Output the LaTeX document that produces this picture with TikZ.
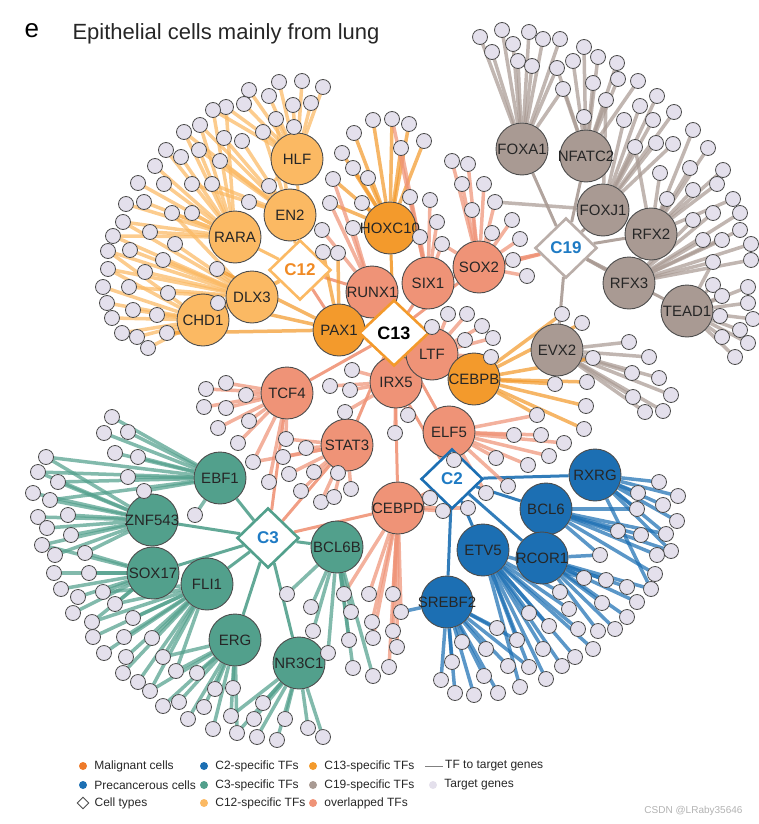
\documentclass[tikz,border=0pt]{standalone}
\usepackage{mathtools}
\usepackage{fontspec}
\setmainfont{Liberation Sans}
\usepackage{tikz}
\usetikzlibrary{positioning,backgrounds,shapes.geometric}

\definecolor{cTwelve}{HTML}{FBB963}
\definecolor{cThirteen}{HTML}{F39A2C}
\definecolor{cOver}{HTML}{EF9377}
\definecolor{cNineteen}{HTML}{A99A93}
\definecolor{cTwo}{HTML}{1C6FB3}
\definecolor{cThree}{HTML}{52A08C}
\definecolor{cTarget}{HTML}{E4E0EC}
\definecolor{cLabel}{HTML}{1F7BC4}
\definecolor{cTwelveTxt}{HTML}{F08A24}
\definecolor{cMalig}{HTML}{EE7A2A}

% targets of every TF: name/colour/{x/y,...}
\def\targetlist{
  HLF/cTwelve/{279/82,302/81,323/87,249/90,269/96,293/105,311/103,276/119,294/127,263/132,244/104,226/107,213/110},
  EN2/cTwelve/{242/141,224/138,220/161,199/150,200/125,184/132,269/186,249/202,212/184,192/184},
  RARA/cTwelve/{166/150,181/157,155/166,138/183,164/184,126/204,144/202,172/213,192/213,123/222,150/232,113/236},
  DLX3/cTwelve/{175/244,108/251,130/250,163/260,108/269,145/272,217/269,129/287,168/293,218/303},
  CHD1/cTwelve/{103/287,107/303,133/310,157/315,112/318,122/333,137/337,167/333,148/348},
  HOXC10/cThirteen/{373/120,354/133,342/153,333/179,330/203,353/168,368/178,362/203,392/119,409/124,424/141,401/148},
  RUNX1/cOver/{322/230,353/228},
  PAX1/cThirteen/{323/252,338/253},
  SIX1/cOver/{410/197,430/200,437/222,420/237,442/244},
  SOX2/cOver/{452/161,468/164,462/184,484/184,472/210,495/202,512/220,492/233,520/239,513/260,527/276},
  LTF/cOver/{448/314,467/314,432/327,482/326,465/340,493/338,491/357},
  IRX5/cOver/{330/386,350/390,352/370,345/412,408/415,395/433},
  TCF4/cOver/{206/389,226/383,246/395,204/407,226/408,249/421,218/428,238/443,253/462,269/482},
  STAT3/cOver/{286/439,306/448,283/457,289/474,314/472,338/473,301/491,321/502,334/497,351/489},
  ELF5/cOver/{514/435,541/435,564/443,496/458,528/465,549/456,508/486,486/493,454/460},
  CEBPB/cThirteen/{562/314,582/323,555/384,587/382,586/406,537/415,584/429},
  CEBPD/cOver/{344/594,369/594,372/622,373/638,393/594,401/612,393/631,397/647,389/667,430/498,443/511,468/508},
  BCL6B/cThree/{287/594,311/607,313/631,328/653,351/612,349/640,353/668,373/676},
  FOXA1/cNineteen/{480/37,492/52,502/30,513/44,518/61,529/32,532/66,543/39,560/39,557/68},
  NFATC2/cNineteen/{573/61,584/47,598/57,617/63,563/89,593/83,618/79,638/81,606/100,584/117},
  FOXJ1/cNineteen/{640/106,657/96,674/112,624/120,653/120,635/147,656/143,673/144},
  RFX2/cNineteen/{693/130,708/148,660/173,690/168,723/170,717/184,693/190,667/199,733/199},
  RFX3/cNineteen/{740/213,713/213,693/220,740/230,722/240,703/240,751/244,751/260,713/262},
  TEAD1/cNineteen/{713/285,748/287,722/296,748/303,720/316,740/330,753/319,722/337,748/343,735/357},
  EVX2/cNineteen/{629/342,593/358,649/357,632/373,659/378,633/397,671/395,645/412,663/411},
  RXRG/cTwo/{659/482,638/493,678/496,663/505,637/509,677/521},
  BCL6/cTwo/{618/531,641/535,666/534,671/551,657/555,600/555,655/574},
  RCOR1/cTwo/{651/589,637/602,627/587,627/617,615/629,598/631,606/580,602/603,584/578},
  ETV5/cTwo/{560/592,569/609,578/629,593/649,575/657,562/666,549/626,529/613,543/649,529/667,546/679,520/687},
  SREBF2/cTwo/{517/640,508/666,497/628,486/649,484/676,498/693,474/695,455/693,441/680,452/662,462/642},
  EBF1/cThree/{112/417,104/433,128/432,115/453,138/457,128/477,144/491,195/515},
  ZNF543/cThree/{46/457,38/472,58/482,33/493,50/500,68/515,38/517,47/528,71/535,42/545,55/555,85/553},
  SOX17/cThree/{54/573,89/573,61/589,78/597,103/592,115/604,73/613,92/622},
  FLI1/cThree/{133/618,93/637,124/637,152/638,104/653,126/657,163/657,123/673,176/671,138/682,150/691},
  ERG/cThree/{197/673,215/689,233/688,163/706,179/702,204/707,188/719,231/716,213/729,237/733},
  NR3C1/cThree/{263/703,254/719,285/719,257/737,277/740,308/728,323/737}}

\begin{document}
\begin{tikzpicture}[
    x=1pt, y=-1pt,
    node distance=7pt,
    font=\fontsize{15}{15}\selectfont,
    tf/.style={
        circle,
        draw=black!70,
        line width=0.9pt,
        minimum size=52pt,
        inner sep=0pt,
        text=black!85
    },
    tg/.style={
        circle,
        draw=black!70,
        line width=0.8pt,
        fill=cTarget,
        minimum size=15pt,
        inner sep=0pt
    },
    ctype/.style={
        diamond,
        draw=#1,
        line width=2.6pt,
        fill=white,
        minimum width=62pt,
        minimum height=60pt,
        inner sep=0pt,
        font=\bfseries\fontsize{17}{17}\selectfont
    },
    link/.style={draw=#1, line width=3.5pt, opacity=0.72},
    hub/.style={draw=#1, line width=3pt, opacity=0.9},
    lgdot/.style={circle, fill=#1, minimum size=8pt, inner sep=0pt},
    lgtext/.style={font=\fontsize{12}{12}\selectfont, inner sep=0pt, anchor=west, text=black!85}
  ]
  \useasboundingbox (0,0) rectangle (758,824);

  % title
  \node[anchor=base west, font=\fontsize{26}{26}\selectfont] (panel) at (21,38) {e};
  \node[anchor=base west, font=\fontsize{22}{22}\selectfont, text=black!85] (title) at (69,40) {Epithelial cells mainly from lung};

  % We start by placing the TFs
  \foreach \nm/\x/\y/\col in {
      HLF/297/159/cTwelve, EN2/290/215/cTwelve, RARA/235/237/cTwelve,
      DLX3/252/297/cTwelve, CHD1/203/320/cTwelve,
      RUNX1/372/292/cOver, SIX1/428/283/cOver, SOX2/479/267/cOver,
      IRX5/396/382/cOver, LTF/432/354/cOver, TCF4/287/393/cOver,
      STAT3/347/445/cOver, ELF5/449/432/cOver, CEBPD/398/508/cOver,
      HOXC10/390/228/cThirteen, PAX1/339/330/cThirteen, CEBPB/474/379/cThirteen,
      FOXA1/522/149/cNineteen, NFATC2/586/156/cNineteen, FOXJ1/603/210/cNineteen,
      RFX2/651/234/cNineteen, RFX3/629/283/cNineteen, TEAD1/687/311/cNineteen,
      EVX2/557/350/cNineteen,
      RXRG/595/475/cTwo, BCL6/546/509/cTwo, RCOR1/542/558/cTwo,
      ETV5/483/550/cTwo, SREBF2/447/602/cTwo,
      EBF1/220/478/cThree, ZNF543/152/520/cThree, SOX17/153/573/cThree,
      FLI1/207/584/cThree, ERG/235/640/cThree, NR3C1/299/663/cThree,
      BCL6B/337/547/cThree}
    \node[tf, fill=\col] (\nm) at (\x,\y) {\clap{\nm}};

  % cell types
  \node[ctype=cTwelve, text=cTwelveTxt] (C12) at (300,270) {C12};
  \node[ctype=cThirteen, minimum width=70pt, minimum height=66pt, font=\bfseries\fontsize{18}{18}\selectfont] (C13) at (394,333) {C13};
  \node[ctype=cNineteen!80, text=cLabel] (C19) at (566,248) {C19};
  \node[ctype=cTwo, text=cLabel] (C2) at (452,479) {C2};
  \node[ctype=cThree, text=cLabel] (C3) at (268,538) {C3};

  \begin{scope}[on background layer]
    \foreach \ct/\nm/\col in {
        C12/HLF/cTwelve, C12/EN2/cTwelve, C12/RARA/cTwelve, C12/DLX3/cTwelve,
        C12/CHD1/cTwelve, C12/RUNX1/cOver, C12/PAX1/cOver,
        C13/HOXC10/cThirteen, C13/PAX1/cThirteen, C13/CEBPB/cThirteen,
        C13/RUNX1/cOver, C13/SIX1/cOver, C13/SOX2/cOver, C13/LTF/cOver,
        C13/IRX5/cOver, C13/TCF4/cOver, C13/STAT3/cOver, C13/ELF5/cOver,
        C13/CEBPD/cOver,
        C19/FOXA1/cNineteen, C19/NFATC2/cNineteen, C19/FOXJ1/cNineteen,
        C19/RFX2/cNineteen, C19/RFX3/cNineteen, C19/TEAD1/cNineteen,
        C19/EVX2/cNineteen, C19/SOX2/cOver, C19/SIX1/cOver,
        C2/RXRG/cTwo, C2/BCL6/cTwo, C2/RCOR1/cTwo, C2/ETV5/cTwo, C2/SREBF2/cTwo,
        C2/ELF5/cOver, C2/CEBPD/cOver, C2/IRX5/cOver,
        C3/EBF1/cThree, C3/ZNF543/cThree, C3/SOX17/cThree, C3/FLI1/cThree,
        C3/ERG/cThree, C3/NR3C1/cThree, C3/BCL6B/cThree,
        C3/TCF4/cOver, C3/STAT3/cOver, C3/CEBPD/cOver}
      \draw[hub=\col] (\ct) -- (\nm);

    % TF to target genes
    \foreach \tfn/\col/\pts in \targetlist {
      \foreach \x/\y [count=\i] in \pts {
        \coordinate (\tfn-\i) at (\x,\y);
        \draw[link=\col] (\tfn) -- (\tfn-\i);
      }
    }

    % shared targets
    \foreach \a/\b/\col in {
        EN2/HLF-8/cTwelve, EN2/HLF-10/cTwelve, HLF/EN2-7/cTwelve,
        RARA/EN2-4/cTwelve, RARA/EN2-5/cTwelve, RARA/EN2-6/cTwelve,
        RARA/HLF-12/cTwelve, RARA/HLF-13/cTwelve,
        DLX3/RARA-8/cTwelve, DLX3/RARA-10/cTwelve, DLX3/RARA-12/cTwelve,
        CHD1/DLX3-2/cTwelve, CHD1/DLX3-5/cTwelve,
        PAX1/DLX3-7/cThirteen, PAX1/DLX3-10/cThirteen, PAX1/CHD1-8/cThirteen,
        RUNX1/HOXC10-4/cOver, RUNX1/HOXC10-5/cOver,
        SIX1/HOXC10-9/cOver, SIX1/HOXC10-12/cOver, SOX2/SIX1-5/cOver,
        FOXJ1/SOX2-6/cNineteen,
        NFATC2/FOXA1-10/cNineteen, FOXA1/NFATC2-5/cNineteen,
        FOXJ1/NFATC2-9/cNineteen, RFX2/FOXJ1-6/cNineteen,
        RFX3/RFX2-8/cNineteen, TEAD1/RFX3-9/cNineteen,
        CEBPB/EVX2-2/cThirteen, ELF5/CEBPB-6/cOver,
        STAT3/TCF4-9/cOver, TCF4/STAT3-1/cOver, BCL6B/CEBPD-1/cThree,
        EBF1/ZNF543-1/cThree, EBF1/ZNF543-2/cThree, EBF1/ZNF543-3/cThree,
        EBF1/ZNF543-5/cThree, SOX17/ZNF543-10/cThree, SOX17/ZNF543-12/cThree,
        FLI1/SOX17-5/cThree, FLI1/SOX17-6/cThree, FLI1/SOX17-8/cThree,
        ERG/FLI1-7/cThree, ERG/FLI1-9/cThree, ERG/FLI1-11/cThree,
        NR3C1/ERG-8/cThree, NR3C1/ERG-10/cThree,
        RXRG/BCL6-3/cTwo, RXRG/BCL6-4/cTwo, RXRG/RCOR1-1/cTwo,
        BCL6/RXRG-5/cTwo, RCOR1/BCL6-6/cTwo, ETV5/RCOR1-9/cTwo,
        SREBF2/ETV5-10/cTwo, ETV5/SREBF2-1/cTwo, SREBF2/CEBPD-6/cTwo}
      \draw[link=\col] (\a) -- (\b);
  \end{scope}

  % target gene circles on top of the links
  \foreach \tfn/\col/\pts in \targetlist {
    \foreach \x/\y [count=\i] in \pts
      \node[tg] (\tfn-\i) at (\x,\y) {};
  }

  % legend
  \foreach \nm/\x/\y/\col/\txt in {
      lgMal/83/766/cMalig/Malignant cells,
      lgPre/83/785/cTwo/Precancerous cells,
      lgCTwo/204/766/cTwo/C2-specific TFs,
      lgCThree/204/785/cThree/C3-specific TFs,
      lgCTwelve/204/803/cTwelve/C12-specific TFs,
      lgCThirteen/313/766/cThirteen/C13-specific TFs,
      lgCNineteen/313/785/cNineteen/C19-specific TFs,
      lgOver/313/803/cOver/overlapped TFs,
      lgTarget/433/785/cTarget/Target genes} {
    \node[lgdot=\col] (\nm) at (\x,\y) {};
    \node[lgtext, right=of \nm] (\nm-txt) {\txt};
  }
  \node[diamond, draw=black!70, line width=0.9pt, minimum size=12pt, inner sep=0pt] (lgCell) at (83,803) {};
  \node[lgtext, right=5pt of lgCell] (lgCell-txt) {Cell types};
  \coordinate (lgLa) at (425,766);
  \coordinate (lgLb) at (443,766);
  \draw[black!50, line width=1pt] (lgLa) -- (lgLb);
  \node[lgtext, right=2pt of lgLb] (lgLine-txt) {TF to target genes};

  \node[anchor=base east, font=\fontsize{10}{10}\selectfont, text=black!30] (mark) at (746,813) {CSDN @LRaby35646};
\end{tikzpicture}
\end{document}
